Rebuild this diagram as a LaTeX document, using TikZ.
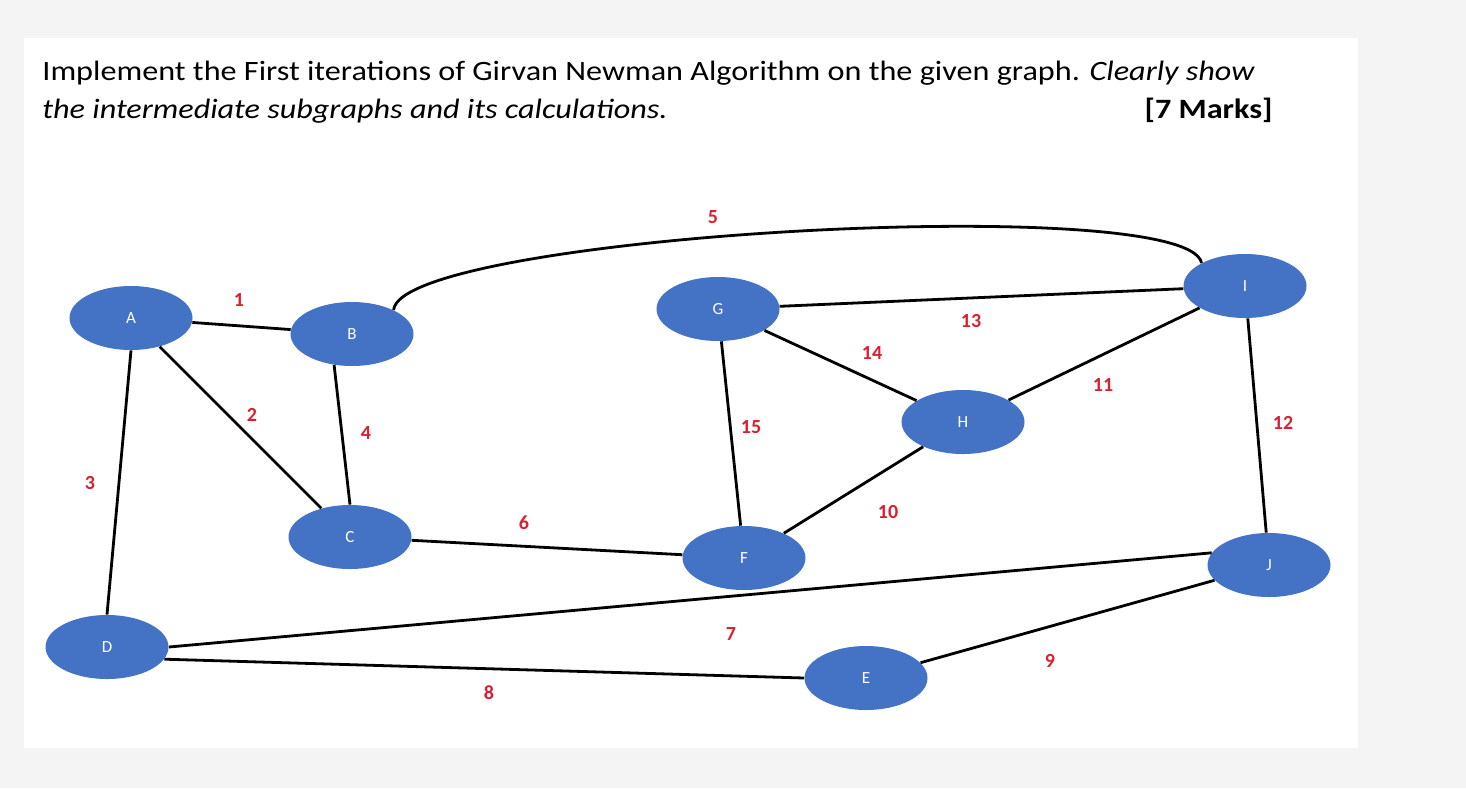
\documentclass[tikz,border=0pt]{standalone}
\usepackage{fontspec}
\setmainfont{Carlito}
\newfontfamily\qfont[FakeStretch=1.15]{Carlito}
\usetikzlibrary{shapes.geometric}

\definecolor{nodeblue}{RGB}{68,114,196}
\definecolor{labred}{RGB}{218,32,48}
\definecolor{pagegray}{RGB}{244,244,244}

\begin{document}
\begin{tikzpicture}[
    x=0.5pt, y=-0.5pt,
    vertex/.style={draw=none, fill=nodeblue, ellipse, inner sep=0pt,
                   minimum width=61.5pt, minimum height=32pt,
                   text=white, font=\fontsize{8.5}{10}\selectfont},
    weight/.style={text=labred, font=\fontsize{10}{12}\selectfont\bfseries},
    question/.style={inner sep=0pt, font=\qfont\fontsize{14}{17}\selectfont},
    edge/.style={line width=1.4pt, black}
]
\useasboundingbox (0,0) rectangle (1466,788);
\fill[pagegray] (0,0) rectangle (1466,788);
\fill[white] (24,38) rectangle (1358,748);

% question text
\node[question, anchor=base west] (q1) at (42,80)
    {Implement the First iterations of Girvan Newman Algorithm on the given graph. \textit{Clearly show}};
\node[question, anchor=base west] (q2) at (42,118)
    {\textit{the intermediate subgraphs and its calculations.}};
\node[question, anchor=base east] (marks) at (1273,118) {\bfseries [7 Marks]};

% vertices
\node[vertex] (A) at (131,318) {A};
\node[vertex] (B) at (352,334) {B};
\node[vertex] (C) at (350,537) {C};
\node[vertex] (D) at (107,647) {D};
\node[vertex] (E) at (866,678) {E};
\node[vertex] (F) at (744,558) {F};
\node[vertex] (G) at (718,309) {G};
\node[vertex] (H) at (963,422) {H};
\node[vertex] (I) at (1245,286) {I};
\node[vertex] (J) at (1269,565) {J};

% edges
\draw[edge] (A) -- (B);
\draw[edge] (A) -- (C);
\draw[edge] (A.south) -- (D.north);
\draw[edge] (B.240) -- (C.north);
\draw[edge] (B.30) .. controls +(7,-75) and +(-15,-72) .. (I.152);
\draw[edge] (C) -- (F);
\draw[edge] (D.east) -- (J.168);
\draw[edge] (D.-12) -- (E.west);
\draw[edge] (E) -- (J);
\draw[edge] (F) -- (H);
\draw[edge] (H) -- (I);
\draw[edge] (I) -- (J);
\draw[edge] (G) -- (I);
\draw[edge] (G) -- (H);
\draw[edge] (G) -- (F);

% edge numbers
\node[weight] (w1) at (239,300) {1};
\node[weight] (w2) at (252,415) {2};
\node[weight] (w3) at (90,483) {3};
\node[weight] (w4) at (366,433) {4};
\node[weight] (w5) at (713,217) {5};
\node[weight] (w6) at (524,523) {6};
\node[weight] (w7) at (731,634) {7};
\node[weight] (w8) at (489,693) {8};
\node[weight] (w9) at (1050,661) {9};
\node[weight] (w10) at (888,512) {10};
\node[weight] (w11) at (1103,385) {11};
\node[weight] (w12) at (1283,423) {12};
\node[weight] (w13) at (971,321) {13};
\node[weight] (w14) at (872,353) {14};
\node[weight] (w15) at (751,427) {15};
\end{tikzpicture}
\end{document}
